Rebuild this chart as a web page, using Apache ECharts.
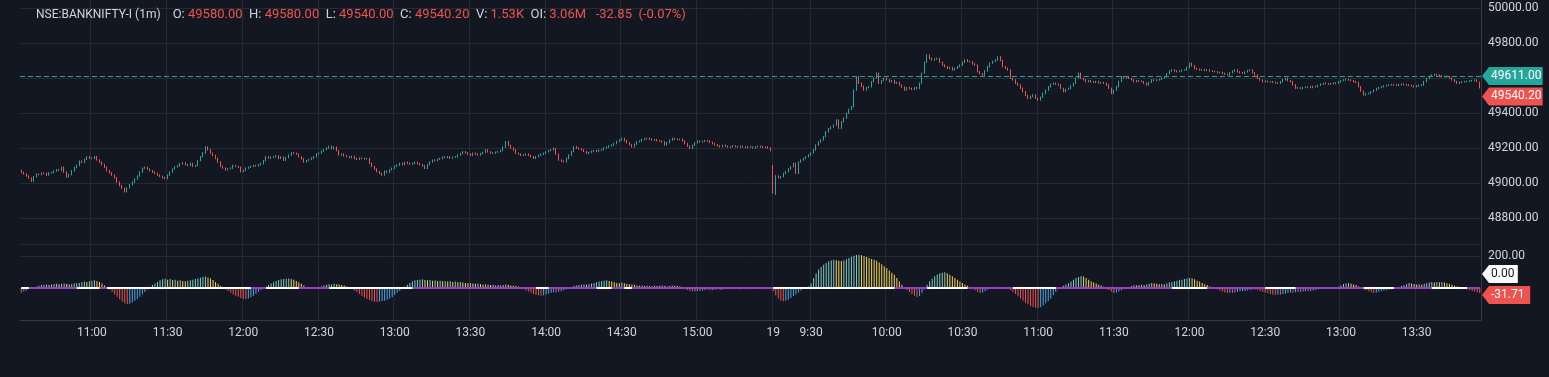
<!DOCTYPE html>
<html>
<head>
<meta charset="utf-8">
<script src="https://cdn.jsdelivr.net/npm/echarts@6/dist/echarts.min.js"></script>
<style>
html, body { margin: 0; padding: 0; background: #131722; }
#main { width: 1549px; height: 377px; }
</style>
</head>
<body>
<div id="main"></div>
<script>
// sessions of 1-minute candles
var sessions = [
  {day: '18', start: '10:32', count: 298},
  {day: '19', start: '9:15', count: 281}
];
var sessionOpens = [49072, 49103];

// closes, day 1 (10:32 - 15:29)
var closesDay1 = [
  49060, 49052, 49040, 49028, 49010, 49035, 49050, 49048, 49056, 49055,
  49045, 49058, 49060, 49068, 49075, 49072, 49090, 49062, 49035, 49048,
  49070, 49088, 49100, 49125, 49118, 49135, 49150, 49142, 49140, 49150,
  49132, 49120, 49105, 49090, 49070, 49058, 49045, 49030, 49005, 48985,
  48970, 48950, 48972, 48990, 49005, 49022, 49040, 49062, 49085, 49090,
  49080, 49070, 49062, 49055, 49045, 49038, 49030, 49025, 49045, 49062,
  49080, 49092, 49098, 49110, 49115, 49105, 49100, 49112, 49095, 49100,
  49128, 49150, 49172, 49205, 49190, 49170, 49158, 49140, 49120, 49095,
  49085, 49075, 49082, 49085, 49100, 49095, 49090, 49065, 49072, 49085,
  49090, 49095, 49100, 49098, 49105, 49110, 49128, 49150, 49142, 49148,
  49150, 49155, 49140, 49148, 49130, 49145, 49160, 49172, 49170, 49165,
  49150, 49138, 49120, 49128, 49135, 49142, 49150, 49165, 49170, 49182,
  49190, 49200, 49210, 49196, 49205, 49185, 49160, 49165, 49155, 49150,
  49145, 49152, 49140, 49135, 49142, 49140, 49138, 49140, 49112, 49095,
  49080, 49065, 49055, 49046, 49068, 49060, 49075, 49084, 49095, 49102,
  49112, 49105, 49118, 49112, 49108, 49112, 49118, 49110, 49105, 49098,
  49084, 49105, 49120, 49131, 49128, 49135, 49140, 49148, 49145, 49150,
  49142, 49148, 49150, 49160, 49168, 49179, 49172, 49165, 49158, 49170,
  49165, 49160, 49168, 49175, 49189, 49178, 49172, 49170, 49176, 49180,
  49185, 49205, 49236, 49215, 49200, 49189, 49170, 49165, 49158, 49160,
  49165, 49158, 49150, 49141, 49150, 49158, 49165, 49170, 49178, 49185,
  49190, 49198, 49165, 49131, 49125, 49122, 49140, 49160, 49180, 49207,
  49200, 49195, 49189, 49180, 49170, 49175, 49182, 49185, 49180, 49188,
  49190, 49200, 49205, 49212, 49217, 49225, 49238, 49245, 49255, 49242,
  49230, 49218, 49207, 49222, 49236, 49240, 49248, 49252, 49255, 49250,
  49245, 49248, 49242, 49240, 49235, 49217, 49230, 49245, 49255, 49250,
  49248, 49250, 49240, 49225, 49210, 49198, 49215, 49230, 49240, 49235,
  49238, 49242, 49240, 49232, 49225, 49218, 49212, 49207, 49215, 49210,
  49205, 49207, 49212, 49208, 49205, 49210, 49206, 49202, 49208, 49205,
  49200, 49207, 49210, 49207, 49204, 49206, 49200, 49185
];

// closes, day 2 (9:15 - 13:55)
var closesDay2 = [
  48945, 49040, 49030, 49036, 49055, 49065, 49080, 49093, 49112, 49055,
  49120, 49131, 49140, 49150, 49160, 49172, 49189, 49217, 49235, 49246,
  49265, 49293, 49310, 49320, 49331, 49360, 49312, 49350, 49370, 49398,
  49420, 49436, 49531, 49607, 49570, 49552, 49531, 49545, 49550, 49579,
  49600, 49627, 49570, 49585, 49598, 49590, 49579, 49585, 49570, 49575,
  49560, 49548, 49531, 49545, 49540, 49535, 49545, 49540, 49570, 49627,
  49690, 49731, 49712, 49703, 49708, 49712, 49690, 49674, 49665, 49655,
  49660, 49646, 49655, 49665, 49674, 49690, 49703, 49695, 49693, 49680,
  49674, 49636, 49625, 49617, 49640, 49665, 49685, 49695, 49703, 49720,
  49700, 49665, 49655, 49646, 49598, 49590, 49570, 49560, 49541, 49522,
  49500, 49484, 49495, 49503, 49484, 49474, 49490, 49512, 49530, 49550,
  49565, 49570, 49565, 49560, 49540, 49522, 49535, 49541, 49555, 49570,
  49600, 49627, 49598, 49590, 49579, 49585, 49578, 49575, 49580, 49572,
  49575, 49570, 49560, 49541, 49512, 49530, 49550, 49580, 49607, 49600,
  49605, 49598, 49590, 49579, 49585, 49582, 49579, 49570, 49560, 49575,
  49589, 49585, 49589, 49592, 49600, 49607, 49625, 49640, 49646, 49640,
  49636, 49640, 49645, 49646, 49660, 49684, 49670, 49655, 49650, 49646,
  49648, 49644, 49646, 49640, 49638, 49636, 49630, 49632, 49627, 49622,
  49617, 49630, 49640, 49646, 49635, 49630, 49627, 49635, 49642, 49646,
  49630, 49617, 49598, 49588, 49579, 49582, 49578, 49579, 49575, 49572,
  49570, 49579, 49590, 49598, 49585, 49579, 49560, 49541, 49545, 49540,
  49545, 49548, 49550, 49545, 49552, 49550, 49558, 49565, 49570, 49568,
  49565, 49568, 49572, 49570, 49578, 49585, 49589, 49592, 49589, 49585,
  49579, 49575, 49550, 49525, 49503, 49510, 49512, 49522, 49531, 49540,
  49545, 49550, 49555, 49558, 49560, 49562, 49560, 49558, 49562, 49565,
  49562, 49560, 49558, 49555, 49550, 49555, 49558, 49560, 49580, 49598,
  49610, 49617, 49620, 49617, 49612, 49607, 49610, 49607, 49600, 49589,
  49580, 49570, 49575, 49578, 49579, 49580, 49583, 49585, 49589, 49580,
  49540.2
];

// a few candles with wide wicks: index -> [low, high]
var wickExtremes = {298: [48940, 49103], 299: [48932, 49045], 578: [49540, 49580]};

// momentum histogram, day 1 and day 2
var histDay1 = [
  -30, -22, -15, -5, 2, 4, 8, 14, 18, 20,
  22, 18, 22, 25, 27, 24, 26, 28, 25, 22,
  25, 28, 30, 32, 36, 40, 38, 42, 45, 48,
  44, 38, 28, 15, 5, -10, -25, -40, -55, -70,
  -85, -95, -100, -98, -90, -80, -68, -55, -40, -25,
  -10, 8, 18, 28, 38, 48, 55, 58, 52, 56,
  50, 52, 46, 48, 44, 42, 45, 48, 52, 56,
  60, 64, 68, 72, 66, 60, 50, 38, 26, 14,
  5, -8, -18, -30, -40, -48, -55, -62, -68, -70,
  -66, -58, -48, -36, -24, -12, -3, 8, 18, 28,
  36, 44, 50, 54, 56, 58, 60, 56, 52, 44,
  36, 26, 15, 6, 2, -2, 3, -1, 4, 10,
  16, 20, 24, 22, 26, 24, 22, 18, 15, 10,
  5, -6, -15, -25, -38, -50, -60, -68, -75, -82,
  -86, -88, -85, -82, -80, -74, -66, -56, -44, -30,
  -18, -6, 8, 20, 32, 42, 48, 50, 52, 54,
  50, 48, 50, 46, 48, 44, 46, 42, 44, 40,
  42, 38, 40, 36, 38, 34, 32, 30, 32, 28,
  26, 28, 24, 22, 24, 20, 18, 20, 16, 18,
  15, 18, 22, 20, 16, 14, 12, 10, 6, -6,
  -15, -22, -30, -38, -42, -45, -48, -46, -40, -34,
  -30, -26, -28, -24, -20, -14, -8, -3, 6, 12,
  16, 18, 20, 22, 20, 24, 28, 32, 36, 40,
  44, 46, 48, 44, 40, 36, 32, 30, 34, 30,
  26, 24, 22, 20, 16, 14, 16, 12, 14, 12,
  10, 14, 12, 14, 16, 12, 10, 14, 16, 14,
  12, 10, 6, -6, -12, -18, -22, -20, -18, -20,
  -16, -12, -10, -14, -12, -10, -8, -12, -10, -6,
  -4, -6, -8, -5, -7, -9, -6, -4, -6, -8,
  -5, -3, -6, -8, -5, -3, -5, -4
];
var histDay2 = [
  -20, -45, -65, -78, -83, -80, -72, -62, -50, -40,
  -28, -16, -5, 4, 10, 30, 62, 90, 115, 132,
  146, 156, 167, 172, 177, 174, 170, 168, 172, 180,
  188, 195, 202, 206, 208, 204, 200, 194, 188, 182,
  177, 170, 160, 148, 136, 125, 110, 96, 83, 62,
  40, 20, 6, -12, -25, -38, -48, -56, -50, -30,
  -10, 20, 42, 58, 73, 84, 92, 96, 98, 92,
  83, 74, 62, 52, 40, 31, 22, 14, 8, -5,
  -14, -24, -31, -28, -20, -10, -3, 3, 6, 8,
  6, 5, 3, 1, -12, -25, -38, -52, -66, -80,
  -92, -102, -112, -118, -123, -125, -120, -110, -96, -82,
  -65, -45, -25, -8, 6, 14, 22, 30, 40, 52,
  62, 68, 73, 72, 62, 52, 42, 34, 28, 20,
  14, 8, 3, -12, -22, -31, -28, -22, -14, -8,
  -3, 6, 12, 17, 15, 18, 20, 17, 22, 26,
  31, 28, 26, 24, 25, 22, 28, 34, 38, 42,
  46, 50, 52, 56, 60, 62, 60, 54, 46, 40,
  31, 24, 18, 10, 6, 3, -8, -15, -22, -28,
  -31, -30, -31, -28, -24, -21, -20, -18, -15, -12,
  -10, -8, -12, -18, -24, -28, -32, -37, -40, -42,
  -40, -42, -38, -36, -32, -28, -30, -26, -24, -25,
  -22, -20, -21, -18, -16, -12, -8, -4, -2, 2,
  -1, 3, 2, -1, 8, 16, 25, 28, 31, 26,
  22, 18, 10, 4, -8, -14, -21, -26, -31, -28,
  -24, -20, -16, -14, -10, -8, -5, -2, 6, 12,
  17, 24, 31, 28, 25, 22, 24, 20, 26, 30,
  34, 37, 35, 37, 36, 38, 35, 30, 26, 20,
  14, 10, 6, 2, -6, -10, -14, -18, -22, -26,
  -31.71
];

// index ranges where the zero line is white (otherwise purple)
var squeezeOff = [[0, 3], [22, 31], [34, 91], [97, 110], [122, 155], [204, 209],
  [228, 234], [239, 242], [298, 346], [359, 375], [393, 410], [456, 470],
  [493, 505], [532, 544], [559, 573]];

var header = [
  ['O:', '49580.00'], ['H:', '49580.00'], ['L:', '49540.00'], ['C:', '49540.20'],
  ['V:', '1.53K'], ['OI:', '3.06M']
];
var headerTitle = 'NSE:BANKNIFTY-I (1m)';
var headerChange = ['-32.85', '(-0.07%)'];
var priceLine = 49611;
var hiddenPriceLabels = [49600];

var UP = '#26a69a', DOWN = '#ef5350';
var GRIDC = '#262a35', TEXTC = '#d1d4dc', FRAME = '#363a45';
var FONT = 'Roboto';

// categories (minute times)
var categories = [], sessionStarts = {};
sessions.forEach(function (s, si) {
  var p = s.start.split(':'), m0 = (+p[0]) * 60 + (+p[1]);
  if (si > 0) sessionStarts[categories.length] = s.day;
  for (var k = 0; k < s.count; k++) {
    var t = m0 + k;
    categories.push(s.day + ' ' + Math.floor(t / 60) + ':' + ('0' + (t % 60)).slice(-2));
  }
});

var closes = closesDay1.concat(closesDay2);
var firstIdx = [0, closesDay1.length];
var candles = closes.map(function (c, i) {
  var si = firstIdx.indexOf(i);
  var o = si >= 0 ? sessionOpens[si] : closes[i - 1];
  var lo = Math.min(o, c) - 4, hi = Math.max(o, c) + 4;
  if (wickExtremes[i]) { lo = wickExtremes[i][0]; hi = wickExtremes[i][1]; }
  return [o, c, lo, hi];
});

var hist = histDay1.concat(histDay2);
var histData = hist.map(function (v, i) {
  var prev = i > 0 ? hist[i - 1] : v;
  var col;
  if (v >= 0) col = v >= prev ? '#7fcfc4' : '#f3d84b';
  else col = v <= prev ? '#f05350' : '#4aa8ea';
  return {value: v, itemStyle: {color: col}};
});

var zeroLine = categories.map(function () { return 0; });
var whiteLine = categories.map(function (c, i) {
  for (var k = 0; k < squeezeOff.length; k++) {
    if (i >= squeezeOff[k][0] && i <= squeezeOff[k][1]) return 0;
  }
  return null;
});

function showTick(idx, val) {
  if (sessionStarts[idx]) return true;
  return /:(00|30)$/.test(val);
}

// header rich text
var headText = '{n|' + headerTitle + '}{g|}';
header.forEach(function (h) { headText += '{t|' + h[0] + '} {v|' + h[1] + '}  '; });
headText += ' {v|' + headerChange[0] + '}  {v|' + headerChange[1] + '}';

var chart = echarts.init(document.getElementById('main'));

var option = {
  backgroundColor: '#131722',
  animation: false,
  title: {
    text: headText,
    left: 31, top: 3,
    textStyle: {
      fontSize: 13, fontFamily: FONT, fontWeight: 'normal',
      rich: {
        n: {color: TEXTC, fontSize: 12, fontFamily: FONT},
        g: {width: 12},
        t: {color: TEXTC, fontSize: 13, fontFamily: FONT},
        v: {color: '#ef5350', fontSize: 13, fontFamily: FONT}
      }
    }
  },
  grid: [
    {left: 20, right: 68, top: 8, height: 210},
    {left: 20, right: 68, top: 244, height: 76},
    {left: 20, right: 68, top: 0, height: 320}
  ],
  xAxis: [
    {type: 'category', gridIndex: 0, data: categories, show: false},
    {type: 'category', gridIndex: 1, data: categories, show: false},
    {
      type: 'category', gridIndex: 2, data: categories,
      axisLine: {lineStyle: {color: FRAME}},
      axisTick: {show: false},
      axisLabel: {
        interval: showTick, color: TEXTC, fontSize: 12, fontFamily: FONT, margin: 7,
        formatter: function (v, idx) {
          if (sessionStarts[idx]) return sessionStarts[idx];
          return v.split(' ')[1];
        }
      },
      splitLine: {show: true, interval: showTick, lineStyle: {color: GRIDC}}
    }
  ],
  yAxis: [
    {
      type: 'value', gridIndex: 0, position: 'right', min: 48800, max: 50000, interval: 200,
      axisLine: {show: false}, axisTick: {show: false},
      axisLabel: {color: TEXTC, fontSize: 12, fontFamily: FONT, margin: 7,
        formatter: function (v) { return hiddenPriceLabels.indexOf(v) >= 0 ? '' : v.toFixed(2); }},
      splitLine: {lineStyle: {color: GRIDC}}
    },
    {
      type: 'value', gridIndex: 1, position: 'right', min: -200, max: 275, interval: 200,
      axisLine: {show: false}, axisTick: {show: false},
      axisLabel: {color: TEXTC, fontSize: 12, fontFamily: FONT, margin: 7,
        formatter: function (v) { return v === 200 ? v.toFixed(2) : ''; }},
      splitLine: {lineStyle: {color: GRIDC}}
    },
    {
      type: 'value', gridIndex: 2, position: 'right', min: 0, max: 1,
      axisLine: {show: true, lineStyle: {color: FRAME}},
      axisTick: {show: false}, axisLabel: {show: false}, splitLine: {show: false}
    }
  ],
  series: [
    {
      type: 'candlestick', xAxisIndex: 0, yAxisIndex: 0,
      data: candles, barWidth: 1,
      itemStyle: {color: UP, color0: DOWN, borderColor: UP, borderColor0: DOWN, borderWidth: 1},
      markLine: {
        silent: true, symbol: 'none', label: {show: false},
        lineStyle: {color: UP, type: [5, 3], width: 1},
        data: [{yAxis: priceLine}]
      }
    },
    {
      type: 'bar', xAxisIndex: 1, yAxisIndex: 1,
      data: histData, barWidth: 1
    },
    {
      type: 'line', xAxisIndex: 1, yAxisIndex: 1, data: zeroLine,
      showSymbol: false, z: 5, lineStyle: {color: '#9a3fbf', width: 2}
    },
    {
      type: 'line', xAxisIndex: 1, yAxisIndex: 1, data: whiteLine,
      showSymbol: false, z: 6, connectNulls: false, lineStyle: {color: '#ffffff', width: 2}
    }
  ]
};

chart.setOption(option);

// price tags on the right scale
function tag(axisIdx, value, text, fill, textColor, shift) {
  var y = chart.convertToPixel({yAxisIndex: axisIdx}, value) + shift;
  var x0 = chart.getWidth() - 68 + 1;
  var w = text.length * 6.2 + 4, h = 18;
  return {
    type: 'group', z: 100,
    children: [
      {type: 'polygon', shape: {points: [[x0, y], [x0 + 7, y - h / 2], [x0 + 7 + w, y - h / 2],
        [x0 + 7 + w, y + h / 2], [x0 + 7, y + h / 2]]}, style: {fill: fill}},
      {type: 'text', x: x0 + 9, y: y, style: {text: text, fill: textColor, fontSize: 12,
        fontFamily: FONT, verticalAlign: 'middle'}}
    ]
  };
}

chart.setOption({
  graphic: [
    tag(0, priceLine, priceLine.toFixed(2), UP, '#ffffff', 0),
    tag(0, closes[closes.length - 1], closes[closes.length - 1].toFixed(2), DOWN, '#ffffff', 8),
    tag(1, 0, (0).toFixed(2), '#ffffff', '#131722', -14),
    tag(1, hist[hist.length - 1], hist[hist.length - 1].toFixed(2), DOWN, '#ffffff', 2)
  ]
});
</script>
</body>
</html>
